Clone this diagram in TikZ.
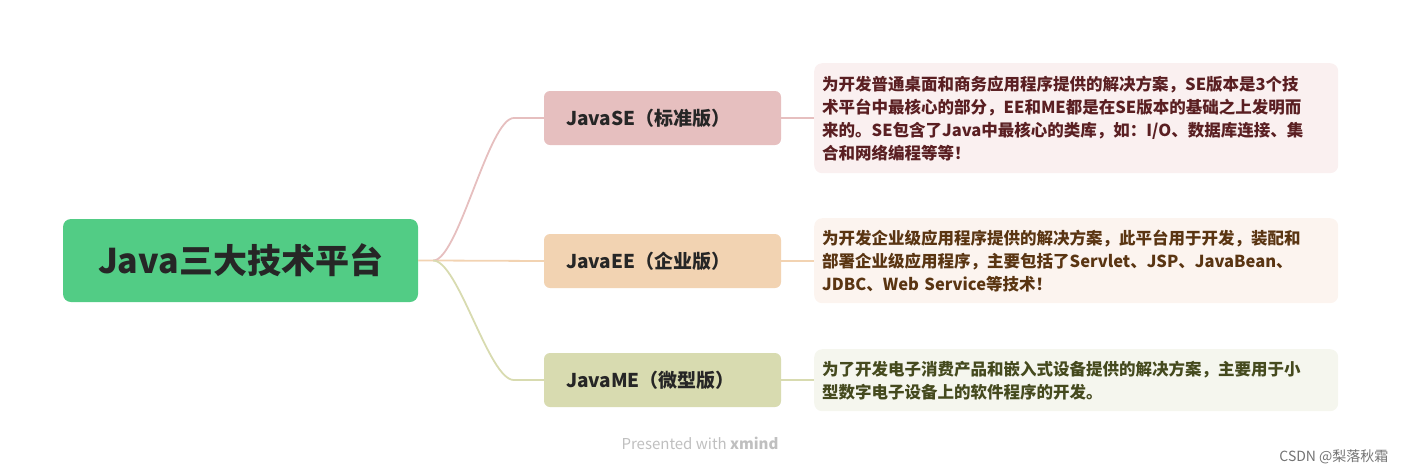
\documentclass[tikz,border=0pt]{standalone}
\usepackage{fontspec}
\setmainfont{Noto Sans CJK SC}
\usepackage{tikz}
\usetikzlibrary{positioning}
\definecolor{rootc}{HTML}{52CC85}
\definecolor{sec}{HTML}{E6BFBF}
\definecolor{eec}{HTML}{F2D3B2}
\definecolor{mec}{HTML}{D8DBB0}
\definecolor{sed}{HTML}{FAF0F0}
\definecolor{eed}{HTML}{FCF4EF}
\definecolor{med}{HTML}{F5F6EE}
\definecolor{set}{HTML}{5A1F22}
\definecolor{eet}{HTML}{5A3512}
\definecolor{met}{HTML}{454A1E}
\tikzstyle{topic}=[rounded corners=6pt, text width=193pt, inner xsep=22pt, align=left, minimum height=54pt, font=\fontsize{19}{22}\selectfont\bfseries, text=black!85]
\tikzstyle{note}=[rounded corners=8pt, text width=508pt, inner xsep=8pt, inner ysep=6pt, align=left, font=\fontsize{16.5}{23}\selectfont\bfseries]
\tikzstyle{link}=[line width=1.8pt]
\begin{document}
\begin{tikzpicture}[x=1pt, y=1pt]
\useasboundingbox (0,0) rectangle (1402,-475);
\node[rounded corners=8pt, fill=rootc, minimum width=355pt, minimum height=83pt, font=\fontsize{34}{38}\selectfont\bfseries, text=black!85] (root) at (240.5,-260.5) {Java三大技术平台};
\node[topic, fill=sec] (se) at (662.5,-118) {JavaSE（标准版）};
\node[topic, fill=eec] (ee) at (662.5,-261) {JavaEE（企业版）};
\node[topic, fill=mec] (me) at (662.5,-380) {JavaME（微型版）};
\node[note, fill=sed, text=set, anchor=north west, minimum height=110pt] (sen) at (814,-63) {为开发普通桌面和商务应用程序提供的解决方案，SE版本是3个技\\术平台中最核心的部分，EE和ME都是在SE版本的基础之上发明而\\来的。SE包含了Java中最核心的类库，如：I/O、数据库连接、集\\合和网络编程等等！};
\node[note, fill=eed, text=eet, anchor=north west, minimum height=85pt] (een) at (814,-218) {为开发企业级应用程序提供的解决方案，此平台用于开发，装配和\\部署企业级应用程序，主要包括了Servlet、JSP、JavaBean、\\JDBC、Web Service等技术！};
\node[note, fill=med, text=met, anchor=north west, minimum height=62pt] (men) at (814,-349) {为了开发电子消费产品和嵌入式设备提供的解决方案，主要用于小\\型数字电子设备上的软件程序的开发。};
\coordinate (hub) at ([xshift=15pt]root.east);
\draw[link, eec] (root.east) -- (hub) -- (ee.west);
\draw[link, sec] (hub) .. controls ++(25,-0) and ++(-25,0) .. ([xshift=-30pt]se.west) -- (se.west);
\draw[link, mec] (hub) .. controls ++(25,0) and ++(-25,0) .. ([xshift=-30pt]me.west) -- (me.west);
\draw[link, sec] (se.east) -- (sen.west |- se.east);
\draw[link, eec] (ee.east) -- (een.west |- ee.east);
\draw[link, mec] (me.east) -- (men.west |- me.east);
\node[font=\fontsize{15}{18}\selectfont, text=black!25] (brand) at (700,-443) {Presented with \textbf{xmind}};
\node[font=\fontsize{14}{17}\selectfont, text=black!55, anchor=east] (mark) at (1392,-457) {CSDN @梨落秋霜};
\end{tikzpicture}
\end{document}
